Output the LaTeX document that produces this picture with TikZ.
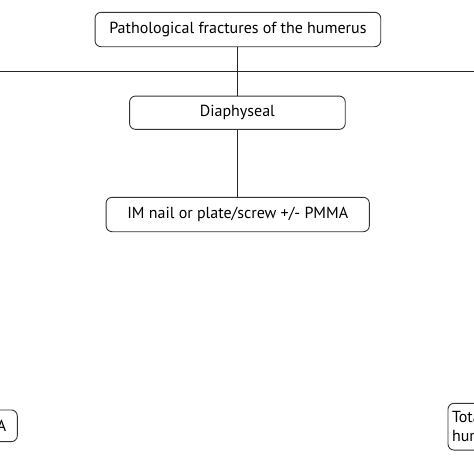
\documentclass[tikz,border=0pt]{standalone}
\usepackage{fontspec}
\setmainfont{PT Sans}
\begin{document}
\begin{tikzpicture}[x=1pt,y=-1pt,
  box/.style={draw=black!80, line width=0.9pt, rounded corners=6pt, inner sep=0pt, align=center, font=\fontsize{16}{19}\selectfont},
  conn/.style={draw=black!85, line width=0.9pt}]
\useasboundingbox (0,0) rectangle (474,474);
\node[box, minimum width=285.7pt, minimum height=34.4pt] (top) at (237.9,29.5) {Pathological fractures of the humerus};
\node[box, minimum width=215.7pt, minimum height=33.3pt] (dia) at (237.4,112.7) {Diaphyseal};
\node[box, minimum width=263.3pt, minimum height=34.4pt] (im) at (237.7,214.5) {IM nail or plate/screw +/- PMMA};
\node[box, minimum width=100pt, minimum height=31.7pt, align=right, text width=78pt] (lb) at (-32.7,425.8) {PMMA};
\node[box, minimum width=100pt, minimum height=46.7pt, align=left, text width=92pt] (rb) at (498,426.7) {Total\\humerus};
\coordinate (hl) at (-10,71);
\coordinate (hr) at (484,71);
\draw[conn] (hl) -- (hr);
\draw[conn] (top.south -| 237,0) -- (dia.north -| 237,0);
\draw[conn] (dia.south -| 237,0) -- (im.north -| 237,0);
\end{tikzpicture}
\end{document}
